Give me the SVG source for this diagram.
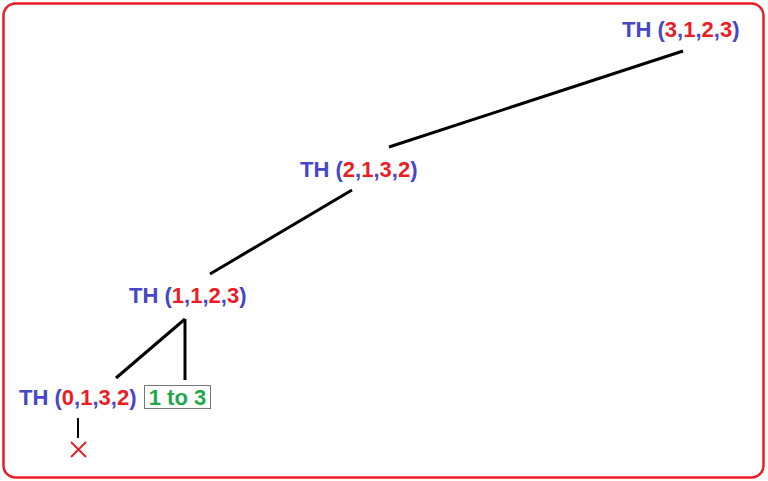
<svg xmlns="http://www.w3.org/2000/svg" width="768" height="481" viewBox="0 0 768 481">
<style>
.t{font-family:"Liberation Sans",Arial,sans-serif;font-weight:bold;font-size:22px}
.b{fill:#4646c8}
.r{fill:#ec1c24}
.g{fill:#22a84a}
.ln{stroke:#000;stroke-width:3;fill:none}
</style>
<rect x="3.5" y="3.5" width="760" height="474" rx="12" ry="12" fill="#fff" stroke="#ec1c24" stroke-width="2.5"/>
<g id="connectors">
<line class="ln" x1="683" y1="51" x2="389" y2="147"/>
<line class="ln" x1="352" y1="190" x2="210" y2="274"/>
<line class="ln" x1="185" y1="319" x2="116" y2="378"/>
<line class="ln" x1="185" y1="319" x2="185" y2="380"/>
<line stroke="#000" stroke-width="2" x1="78" y1="418" x2="78" y2="438"/>
</g>
<g id="n3123">
<text class="t b" x="622" y="37">TH (<tspan class="r">3</tspan>,<tspan class="r">1</tspan>,<tspan class="r">2</tspan>,<tspan class="r">3</tspan>)</text>
</g>
<g id="n2132">
<text class="t b" x="300" y="177">TH (<tspan class="r">2</tspan>,<tspan class="r">1</tspan>,<tspan class="r">3</tspan>,<tspan class="r">2</tspan>)</text>
</g>
<g id="n1123">
<text class="t b" x="129" y="303">TH (<tspan class="r">1</tspan>,<tspan class="r">1</tspan>,<tspan class="r">2</tspan>,<tspan class="r">3</tspan>)</text>
</g>
<g id="n0132">
<text class="t b" x="19" y="405">TH (<tspan class="r">0</tspan>,<tspan class="r">1</tspan>,<tspan class="r">3</tspan>,<tspan class="r">2</tspan>)</text>
</g>
<g id="range">
<rect x="144.5" y="385.5" width="66" height="23" fill="#fff" stroke="#777" stroke-width="1"/>
<text class="t g" x="177.5" y="405" text-anchor="middle">1 to 3</text>
</g>
<g id="cross">
<path d="M71 442 L86 457 M86 442 L71 457" stroke="#ec1c24" stroke-width="1.8" fill="none"/>
</g>
</svg>
